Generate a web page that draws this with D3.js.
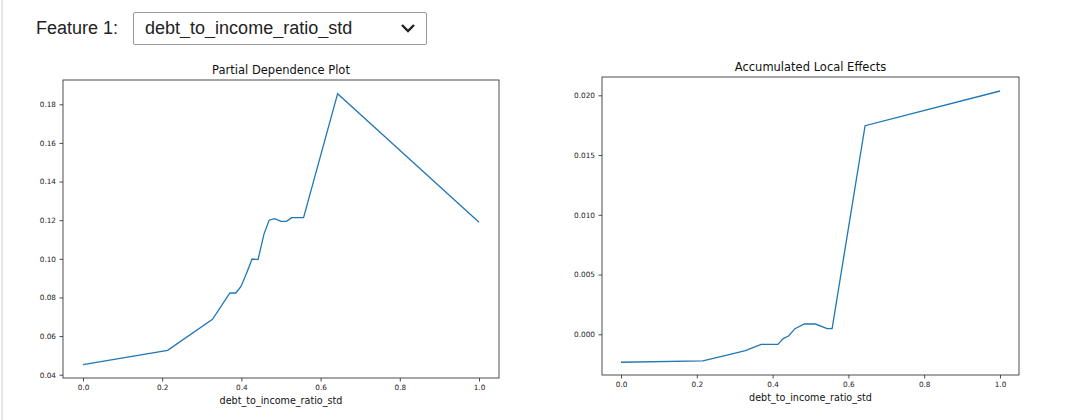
<!DOCTYPE html>
<html><head><meta charset="utf-8">
<script src="https://cdn.jsdelivr.net/npm/d3@7"></script>
<style>
body{margin:0;width:1080px;height:420px;background:#fff;font-family:"DejaVu Sans",sans-serif;position:relative;overflow:hidden}
#hdr{position:absolute;left:36px;top:12px;height:32px;display:flex;align-items:center;font-family:"Liberation Sans",Arial,sans-serif;font-size:18px;color:#222}
#feat{margin-left:15px;width:294px;height:33px;font-size:18px;font-family:"Liberation Sans",Arial,sans-serif;padding:0 11px;border:1px solid #999;border-radius:2px;color:#222;
  -webkit-appearance:none;appearance:none;
  background:#fff url("data:image/svg+xml,%3Csvg xmlns='http://www.w3.org/2000/svg' width='16' height='10'%3E%3Cpath d='M2 2 L8 8 L14 2' fill='none' stroke='%23222' stroke-width='2.4'/%3E%3C/svg%3E") no-repeat right 10px center}
svg{position:absolute;left:0;top:0}
</style></head><body>
<div id="hdr">Feature 1: <select id="feat"><option>debt_to_income_ratio_std</option></select></div>
<svg id="chart" width="1080" height="420"></svg>
<script>
// PDP values
const pdpX = [0, 0.2136, 0.327, 0.371, 0.386, 0.399, 0.413, 0.427, 0.442, 0.457, 0.470, 0.484, 0.5, 0.514, 0.527, 0.557, 0.643, 1];
const pdpY = [0.0452, 0.0526, 0.0687, 0.0823, 0.0823, 0.0857, 0.0925, 0.0999, 0.0996, 0.1128, 0.120, 0.1208, 0.1194, 0.1194, 0.1213, 0.1213, 0.1855, 0.1189];
const pdpTicks = [0.04, 0.06, 0.08, 0.10, 0.12, 0.14, 0.16, 0.18];

// ALE values
const aleX = [0, 0.216, 0.296, 0.328, 0.37, 0.414, 0.428, 0.442, 0.459, 0.484, 0.513, 0.544, 0.557, 0.644, 1];
const aleY = [-0.00234, -0.00223, -0.00162, -0.00137, -0.00084, -0.00084, -0.00036, -0.00014, 0.00047, 0.00086, 0.00086, 0.00047, 0.00047, 0.01746, 0.02036];
const aleTicks = [0.000, 0.005, 0.010, 0.015, 0.020];

const xTicks = [0, 0.2, 0.4, 0.6, 0.8, 1.0];
const svg = d3.select('#chart');

// thin notebook edge on the left
svg.append('line').attr('x1', 2).attr('x2', 2).attr('y1', 0).attr('y2', 420).attr('stroke', '#e6e6e6').attr('stroke-width', 2);

function panel(o) {
  const x = d3.scaleLinear().domain([0, 1]).range([o.x0, o.x1]);
  const y = d3.scaleLinear().domain(o.ydom).range([o.y0, o.y1]);
  const g = svg.append('g');

  g.append('rect').attr('x', o.left).attr('y', o.top).attr('width', o.right - o.left).attr('height', o.bottom - o.top)
    .attr('fill', 'none').attr('stroke', '#222').attr('stroke-width', 0.8);

  const xa = g.append('g').attr('transform', `translate(0,${o.bottom})`)
    .call(d3.axisBottom(x).tickValues(xTicks).tickFormat(d3.format('.1f')).tickSize(3.5).tickPadding(3.5));
  const ya = g.append('g').attr('transform', `translate(${o.left},0)`)
    .call(d3.axisLeft(y).tickValues(o.ticks).tickFormat(d3.format(o.fmt)).tickSize(3.5).tickPadding(3.5));
  [xa, ya].forEach(a => {
    a.select('.domain').remove();
    a.selectAll('line').attr('stroke', '#222').attr('stroke-width', 0.8);
    a.selectAll('text').attr('font-size', 7.3).attr('fill', '#222').attr('font-family', 'DejaVu Sans');
  });

  g.append('text').attr('x', (o.left + o.right) / 2).attr('y', o.top - 6).attr('text-anchor', 'middle')
    .attr('font-size', 11.5).attr('fill', '#111').text(o.title);
  g.append('text').attr('x', (o.left + o.right) / 2).attr('y', o.bottom + 26).attr('text-anchor', 'middle')
    .attr('font-size', 9.6).attr('fill', '#111').text('debt_to_income_ratio_std');

  const line = d3.line().x(d => x(d[0])).y(d => y(d[1]));
  g.append('path').datum(d3.zip(o.xs, o.ys)).attr('d', line)
    .attr('fill', 'none').attr('stroke', '#1f77b4').attr('stroke-width', 1.3);
}

panel({
  title: 'Partial Dependence Plot', xs: pdpX, ys: pdpY, ticks: pdpTicks, fmt: '.2f',
  left: 63, right: 499, top: 80, bottom: 378,
  x0: 83, x1: 479, ydom: [0.04, 0.18], y0: 374.7, y1: 104.3
});
panel({
  title: 'Accumulated Local Effects', xs: aleX, ys: aleY, ticks: aleTicks, fmt: '.3f',
  left: 602, right: 1019, top: 77, bottom: 375,
  x0: 621, x1: 1000, ydom: [0, 0.02], y0: 334.3, y1: 95.3
});
</script>
</body></html>
